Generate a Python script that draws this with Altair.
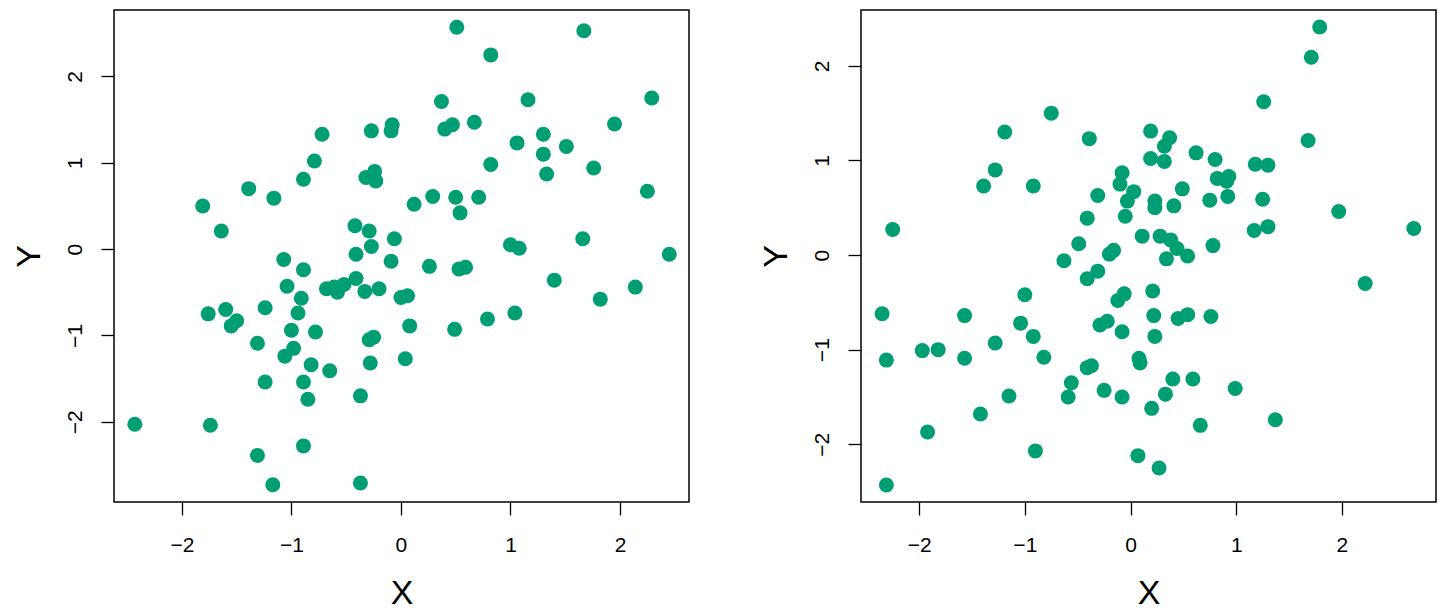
import altair as alt
import pandas as pd

# Left panel values
x_left = [-2.43, -1.81, -1.76, -1.74, -1.64, -1.60, -1.55, -1.50, -1.39, -1.31,
          -1.31, -1.24, -1.24, -1.17, -1.16, -1.07, -1.06, -1.04, -1.00, -0.98,
          -0.94, -0.91, -0.89, -0.89, -0.89, -0.89, -0.85, -0.82, -0.79, -0.78,
          -0.72, -0.68, -0.65, -0.61, -0.58, -0.52, -0.42, -0.41, -0.41, -0.37,
          -0.37, -0.33, -0.32, -0.29, -0.29, -0.28, -0.27, -0.27, -0.25, -0.24,
          -0.23, -0.20, -0.09, -0.08, -0.09, -0.06, 0.00, 0.04, 0.06, 0.08,
          0.12, 0.26, 0.29, 0.37, 0.40, 0.47, 0.49, 0.50, 0.51, 0.53,
          0.54, 0.59, 0.67, 0.71, 0.79, 0.82, 0.82, 1.00, 1.04, 1.06,
          1.08, 1.16, 1.30, 1.30, 1.33, 1.40, 1.51, 1.66, 1.67, 1.76,
          1.82, 1.95, 2.14, 2.25, 2.29, 2.45]
y_left = [-2.03, 0.50, -0.75, -2.04, 0.21, -0.70, -0.89, -0.83, 0.70, -1.09,
          -2.39, -0.68, -1.54, -2.73, 0.59, -0.12, -1.24, -0.43, -0.94, -1.15,
          -0.74, -0.57, -0.24, 0.81, -1.54, -2.28, -1.74, -1.34, 1.02, -0.96,
          1.33, -0.46, -1.41, -0.44, -0.50, -0.41, 0.27, -0.06, -0.34, -1.70,
          -2.71, -0.49, 0.83, 0.21, -1.05, -1.32, 1.37, 0.03, -1.02, 0.90,
          0.79, -0.46, 1.37, 1.44, -0.14, 0.12, -0.56, -1.27, -0.54, -0.89,
          0.52, -0.20, 0.61, 1.71, 1.39, 1.44, -0.93, 0.60, 2.57, -0.23,
          0.42, -0.21, 1.47, 0.60, -0.81, 0.98, 2.25, 0.05, -0.74, 1.23,
          0.01, 1.73, 1.33, 1.10, 0.87, -0.36, 1.19, 0.12, 2.53, 0.94,
          -0.58, 1.45, -0.44, 0.67, 1.75, -0.06]

# Right panel values
x_right = [-2.35, -2.31, -2.31, -2.25, -1.97, -1.92, -1.82, -1.57, -1.57, -1.28,
           -1.42, -1.39, -1.28, -1.15, -1.19, -1.00, -1.04, -0.92, -0.92, -0.90,
           -0.82, -0.75, -0.63, -0.59, -0.56, -0.49, -0.41, -0.41, -0.39, -0.41,
           -0.37, -0.31, -0.31, -0.29, -0.25, -0.22, -0.20, -0.16, -0.12, -0.10,
           -0.08, -0.06, -0.08, -0.08, -0.05, -0.03, 0.03, 0.08, 0.09, 0.07,
           0.11, 0.19, 0.19, 0.20, 0.21, 0.23, 0.22, 0.23, 0.23, 0.27,
           0.28, 0.32, 0.32, 0.37, 0.34, 0.33, 0.38, 0.41, 0.40, 0.44,
           0.45, 0.49, 0.54, 0.54, 0.59, 0.62, 0.66, 0.75, 0.76, 0.78,
           0.80, 0.82, 0.91, 0.92, 0.93, 0.99, 1.17, 1.18, 1.25, 1.26,
           1.30, 1.30, 1.37, 1.68, 1.71, 1.79, 1.97, 2.22, 2.68]
y_right = [-0.62, -1.11, -2.43, 0.27, -1.01, -1.87, -1.00, -0.64, -1.09, -0.93,
           -1.68, 0.73, 0.90, -1.49, 1.30, -0.42, -0.72, -0.86, 0.73, -2.07,
           -1.08, 1.50, -0.06, -1.50, -1.35, 0.12, 0.39, -0.25, 1.23, -1.19,
           -1.17, 0.63, -0.17, -0.74, -1.43, -0.70, 0.01, 0.05, -0.48, 0.75,
           0.87, -0.41, -0.81, -1.50, 0.41, 0.57, 0.67, -1.09, -1.14, -2.12,
           0.20, 1.31, 1.02, -1.62, -0.38, -0.86, -0.64, 0.57, 0.50, -2.25,
           0.20, 0.99, 1.15, 1.24, -0.04, -1.47, 0.16, 0.52, -1.31, 0.07,
           -0.67, 0.70, -0.01, -0.63, -1.31, 1.08, -1.80, 0.58, -0.65, 0.10,
           1.01, 0.81, 0.78, 0.62, 0.83, -1.41, 0.26, 0.96, 0.59, 1.62,
           0.95, 0.30, -1.74, 1.21, 2.09, 2.41, 0.46, -0.30, 0.28]

ticks = [-2, -1, 0, 1, 2]
GREEN = "#009E73"
FONT = "Liberation Sans"


def axis_x():
    return alt.Axis(values=ticks, grid=False, domain=False, tickSize=13,
                    tickColor="black", tickWidth=1.3, labelFont=FONT,
                    labelFontSize=21, labelColor="black", labelPadding=19,
                    labelOverlap=False, labelFlush=False,
                    titleFont=FONT, titleFontSize=34, titleFontWeight="normal",
                    titleColor="black", titlePadding=21)


def axis_y():
    return alt.Axis(values=ticks, grid=False, domain=False, tickSize=13,
                    tickColor="black", tickWidth=1.3, labelFont=FONT,
                    labelFontSize=21, labelColor="black", labelPadding=20,
                    labelAngle=270, labelAlign="center",
                    labelBaseline="alphabetic",
                    labelOverlap=False, labelFlush=False,
                    titleFont=FONT, titleFontSize=34, titleFontWeight="normal",
                    titleColor="black", titlePadding=18)


def panel(xs, ys, xdom, ydom):
    df = pd.DataFrame({"X": xs, "Y": ys})
    return alt.Chart(df).mark_circle(size=225, color=GREEN, opacity=1).encode(
        x=alt.X("X:Q", title="X",
                scale=alt.Scale(domain=xdom, nice=False, zero=False),
                axis=axis_x()),
        y=alt.Y("Y:Q", title="Y",
                scale=alt.Scale(domain=ydom, nice=False, zero=False),
                axis=axis_y()),
    ).properties(width=575, height=492)


left = panel(x_left, y_left, [-2.62, 2.63], [-2.93, 2.77])
right = panel(x_right, y_right, [-2.55, 2.89], [-2.61, 2.59])

chart = alt.hconcat(left, right, spacing=68).properties(
    padding={"left": 3, "top": 1, "right": 5, "bottom": 0},
    background="white",
).configure_view(stroke="black", strokeWidth=1.5)

chart.save("out.html", embed_options={"renderer": "svg", "actions": False})
